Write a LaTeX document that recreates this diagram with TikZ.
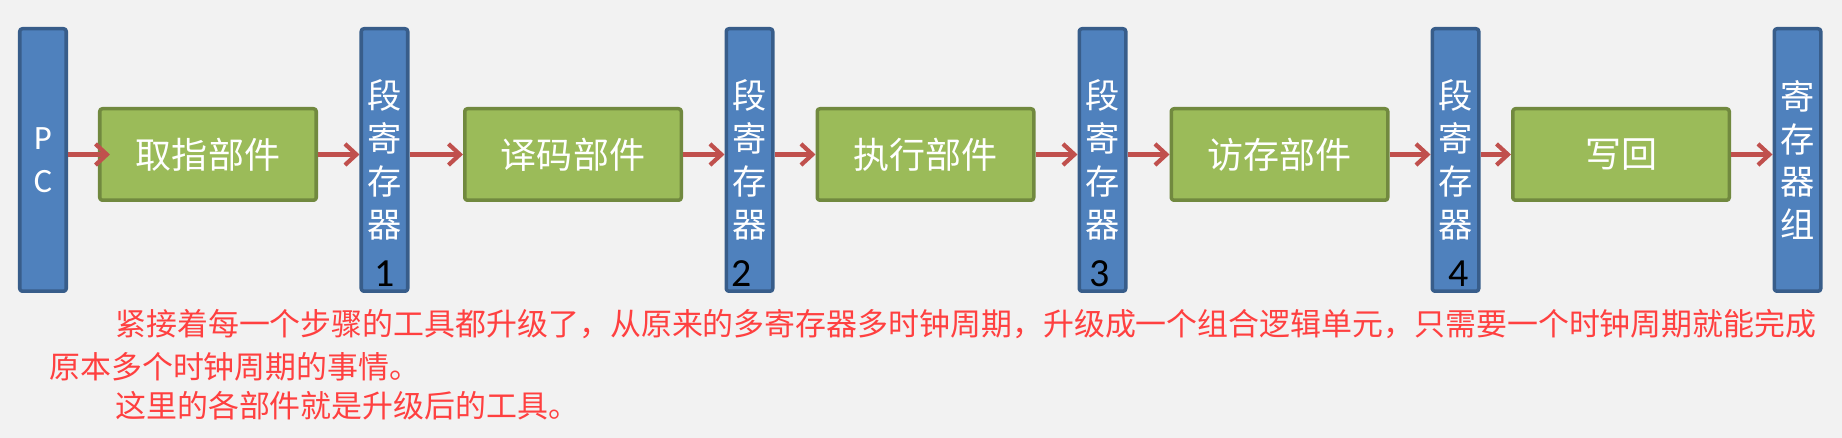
\documentclass[tikz,border=0pt]{standalone}
\usepackage{fontspec}
\setmainfont{Carlito}
\newfontfamily\cjk{Noto Sans CJK SC}
\usetikzlibrary{arrows.meta}
\definecolor{regblue}{HTML}{4F81BD}
\definecolor{regedge}{HTML}{385D8A}
\definecolor{unitgreen}{HTML}{9BBB59}
\definecolor{unitedge}{HTML}{71893F}
\definecolor{arrowred}{HTML}{C0504D}
\definecolor{notered}{RGB}{255,64,64}
\definecolor{bggray}{HTML}{F2F2F2}
\begin{document}
\begin{tikzpicture}[line join=round,>={Straight Barb[length=6.5pt,width=12pt]},
	reg/.style={draw=regedge,fill=regblue,line width=2pt,rounded corners=1.5pt,minimum width=0.93cm,minimum height=5.25cm,inner sep=0pt,text=white,align=center,font=\cjk\fontsize{19.5pt}{24.4pt}\selectfont},
	unit/.style={draw=unitedge,fill=unitgreen,line width=2pt,rounded corners=1.5pt,minimum width=4.33cm,minimum height=1.83cm,inner sep=0pt,text=white,font=\cjk\fontsize{20.5pt}{24pt}\selectfont},
	num/.style={anchor=base,inner sep=0pt,font=\fontsize{22.7pt}{24pt}\selectfont},
	note/.style={anchor=west,inner sep=0pt,text=notered,font=\cjk\fontsize{17.6pt}{20pt}\selectfont},
	flow/.style={->,draw=arrowred,line width=2.4pt}]
	\fill[bggray] (0,0) rectangle (36.84,8.76);
	% registers
	\node[reg,font=\fontsize{19.4pt}{24.4pt}\selectfont] (pc) at (0.86,5.56) {P\\C};
	\node[reg] (r1) at (7.69,5.56) {段\\寄\\存\\器};
	\node[reg] (r2) at (14.99,5.56) {段\\寄\\存\\器};
	\node[reg] (r3) at (22.05,5.56) {段\\寄\\存\\器};
	\node[reg] (r4) at (29.11,5.56) {段\\寄\\存\\器};
	\node[reg] (rf) at (35.95,5.56) {寄\\存\\器\\组};
	\node[num] (n1) at ([yshift=0.12cm]r1.south) {1};
	\node[num] (n2) at ([xshift=-0.15cm,yshift=0.12cm]r2.south) {2};
	\node[num] (n3) at ([xshift=-0.05cm,yshift=0.12cm]r3.south) {3};
	\node[num] (n4) at ([xshift=0.07cm,yshift=0.12cm]r4.south) {4};
	% units
	\node[unit] (u1) at (4.16,5.67) {取指部件};
	\node[unit] (u2) at (11.46,5.67) {译码部件};
	\node[unit] (u3) at (18.51,5.67) {执行部件};
	\node[unit] (u4) at (25.59,5.67) {访存部件};
	\node[unit] (u5) at (32.42,5.67) {写回};
	% flow
	\draw[flow,shorten >=-0.24cm] (pc.east |- u1) -- (u1);
	\draw[flow] (u1) -- (u1 -| r1.west);
	\draw[flow] (r1.east |- u2) -- (u2);
	\draw[flow] (u2) -- (u2 -| r2.west);
	\draw[flow] (r2.east |- u3) -- (u3);
	\draw[flow] (u3) -- (u3 -| r3.west);
	\draw[flow] (r3.east |- u4) -- (u4);
	\draw[flow] (u4) -- (u4 -| r4.west);
	\draw[flow] (r4.east |- u5) -- (u5);
	\draw[flow] (u5) -- (u5 -| rf.west);
	% notes
	\node[note] (t1) at (2.3,2.28) {紧接着每一个步骤的工具都升级了，从原来的多寄存器多时钟周期，升级成一个组合逻辑单元，只需要一个时钟周期就能完成};
	\node[note] (t2) at (0.98,1.42) {原本多个时钟周期的事情。};
	\node[note] (t3) at (2.3,0.64) {这里的各部件就是升级后的工具。};
\end{tikzpicture}
\end{document}
